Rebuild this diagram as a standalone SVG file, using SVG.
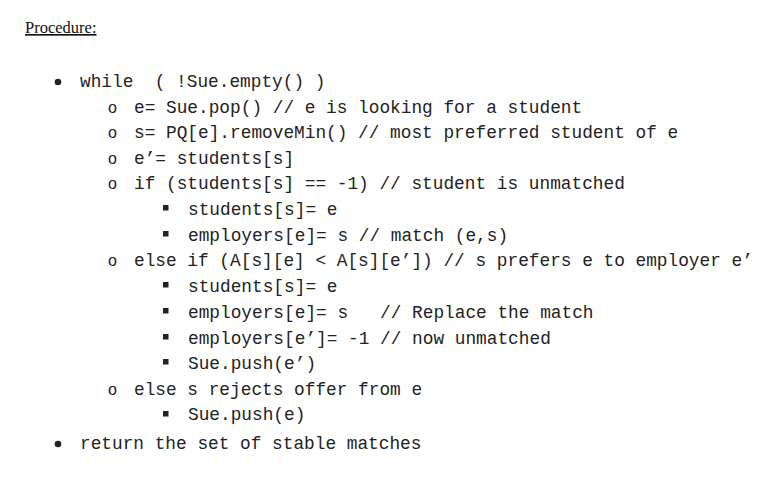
<svg xmlns="http://www.w3.org/2000/svg" width="767" height="487" viewBox="0 0 767 487">
<style>
.c{font-family:"Liberation Mono",monospace;font-size:17.8px;fill:#222;white-space:pre}
.o{font-family:"Liberation Sans",sans-serif;font-size:16px;fill:#222}
.h{font-family:"Liberation Serif",serif;font-size:16.5px;fill:#111;text-decoration:underline}
</style>
<rect width="767" height="487" fill="#fff"/>
<g id="title"><text class="h" x="25" y="33">Procedure:</text></g>
<g id="bullets" fill="#222">
<circle cx="58" cy="82" r="3.3"/>
<circle cx="58" cy="444" r="3.3"/>
<rect x="163" y="205" width="5.5" height="5.5"/>
<rect x="163" y="231" width="5.5" height="5.5"/>
<rect x="163" y="282" width="5.5" height="5.5"/>
<rect x="163" y="308" width="5.5" height="5.5"/>
<rect x="163" y="334" width="5.5" height="5.5"/>
<rect x="163" y="359" width="5.5" height="5.5"/>
<rect x="163" y="411" width="5.5" height="5.5"/>
</g>
<g id="obullets">
<text class="o" x="108" y="113">o</text>
<text class="o" x="108" y="138">o</text>
<text class="o" x="108" y="164">o</text>
<text class="o" x="108" y="189">o</text>
<text class="o" x="108" y="266">o</text>
<text class="o" x="108" y="395">o</text>
</g>
<g id="code">
<text class="c" x="80" y="87" xml:space="preserve">while  ( !Sue.empty() )</text>
<text class="c" x="134" y="113">e= Sue.pop() // e is looking for a student</text>
<text class="c" x="134" y="138">s= PQ[e].removeMin() // most preferred student of e</text>
<text class="c" x="134" y="164">e’= students[s]</text>
<text class="c" x="134" y="189">if (students[s] == -1) // student is unmatched</text>
<text class="c" x="188" y="215">students[s]= e</text>
<text class="c" x="188" y="241">employers[e]= s // match (e,s)</text>
<text class="c" x="134" y="266">else if (A[s][e] &lt; A[s][e’]) // s prefers e to employer e’</text>
<text class="c" x="188" y="292">students[s]= e</text>
<text class="c" x="188" y="318" xml:space="preserve">employers[e]= s   // Replace the match</text>
<text class="c" x="188" y="344">employers[e’]= -1 // now unmatched</text>
<text class="c" x="188" y="369">Sue.push(e’)</text>
<text class="c" x="134" y="395">else s rejects offer from e</text>
<text class="c" x="188" y="420">Sue.push(e)</text>
<text class="c" x="80" y="449">return the set of stable matches</text>
</g>
</svg>
